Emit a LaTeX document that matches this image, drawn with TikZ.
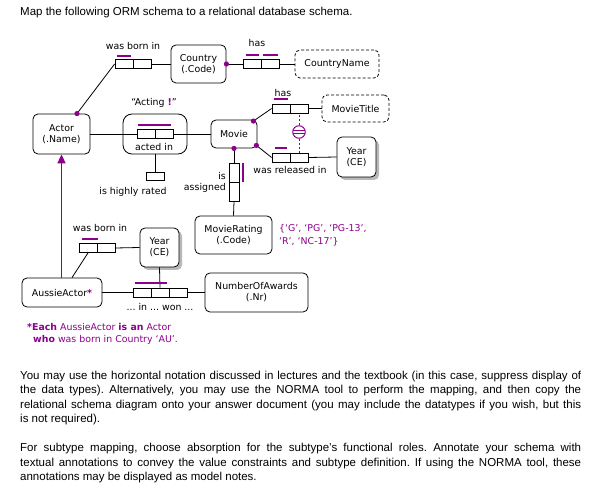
\documentclass[tikz,border=0pt]{standalone}
\usepackage{fontspec}
\setmainfont{Liberation Sans}
\newfontfamily\ormf{DejaVu Sans}
\usetikzlibrary{arrows.meta}
\definecolor{ormpurple}{RGB}{140,0,140}
\frenchspacing
\newcommand{\bodyf}{\fontsize{11.5}{13}\selectfont}
\newcommand{\ormsize}{\ormf\fontsize{9.4}{11}\selectfont}
\tikzset{
  ent/.style={draw, fill=white, rounded corners=5pt, line width=0.8pt, align=center, inner sep=0pt, font=\ormsize},
  valt/.style={ent, dash pattern=on 3pt off 2pt},
  shadowbox/.style={draw=none, fill=black!28, rounded corners=5pt, inner sep=0pt},
  role/.style={draw, fill=white, line width=0.8pt, minimum width=18pt, minimum height=9pt, inner sep=0pt},
  vrole/.style={role, minimum width=10pt, minimum height=19pt},
  uniq/.style={ormpurple, line width=1.2pt},
  conn/.style={line width=0.8pt},
  lbl/.style={font=\ormsize, inner sep=0pt},
  body/.style={font=\bodyf, inner sep=0pt, anchor=base west},
}
\begin{document}
\begin{tikzpicture}[x=1pt,y=-1pt]
\fill[white] (0,0) rectangle (598,492);
\useasboundingbox (0,0) rectangle (598,492);

% ---------- body text ----------
\node[body] (title) at (20,16) {Map the following ORM schema to a relational database schema.};
\node[body] (p1a) at (20,379) {\makebox[561pt][s]{You may use the horizontal notation discussed in lectures and the textbook (in this case, suppress display of}};
\node[body] (p1b) at (20,393.5) {\makebox[561pt][s]{the data types). Alternatively, you may use the NORMA tool to perform the mapping, and then copy the}};
\node[body] (p1c) at (20,408) {\makebox[561pt][s]{relational schema diagram onto your answer document (you may include the datatypes if you wish, but this}};
\node[body] (p1d) at (20,422.5) {is not required).};
\node[body] (p2a) at (20,451.5) {\makebox[561pt][s]{For subtype mapping, choose absorption for the subtype’s functional roles. Annotate your schema with}};
\node[body] (p2b) at (20,466) {\makebox[561pt][s]{textual annotations to convey the value constraints and subtype definition. If using the NORMA tool, these}};
\node[body] (p2c) at (20,480.5) {annotations may be displayed as model notes.};

% ---------- object types ----------
\node[ent, minimum width=57pt, minimum height=40pt] (actor) at (61.5,134) {Actor\\(.Name)};
\node[ent, minimum width=55pt, minimum height=38pt] (country) at (198.5,64) {Country\\(.Code)};
\node[valt, minimum width=84pt, minimum height=28pt] (cname) at (337,64) {CountryName};
\node[valt, minimum width=67pt, minimum height=27pt] (mtitle) at (355.5,108.5) {MovieTitle};
\node[ent, minimum width=46pt, minimum height=28pt] (movie) at (234,134) {Movie};
\node[shadowbox, minimum width=39pt, minimum height=40pt] (year1s) at (359.5,160) {};
\node[ent, minimum width=39pt, minimum height=40pt] (year1) at (356.5,157) {Year\\(CE)};
\node[ent, minimum width=77pt, minimum height=38pt] (rating) at (233.5,235) {MovieRating\\(.Code)};
\node[ent, minimum width=103pt, minimum height=39pt] (awards) at (256.5,292.5) {NumberOfAwards\\(.Nr)};
\node[shadowbox, minimum width=39pt, minimum height=39pt] (year2s) at (162.5,250.5) {};
\node[ent, minimum width=39pt, minimum height=39pt] (year2) at (159.5,247.5) {Year\\(CE)};
\node[ent, minimum width=80pt, minimum height=29pt] (aussie) at (62,292.5) {AussieActor{\color{ormpurple}\textbf{*}}};

% objectified fact type
\node[draw, line width=0.8pt, rounded corners=9pt, minimum width=64pt, minimum height=40pt, inner sep=0pt] (obj) at (155,134) {};

% ---------- mandatory dot positions ----------
\coordinate (dA) at ([xshift=15.5pt]actor.north);
\coordinate (dC) at (country.east);
\coordinate (dM1) at ([shift={(-4,1.5)}]movie.north east);
\coordinate (dM2) at ([shift={(-1,-3)}]movie.south east);
\coordinate (dM3) at (movie.south);

% ---------- role boxes ----------
\node[role] (wbA1) at (124,64) {};
\node[role] (wbA2) at (142,64) {};
\node[role] (hasC1) at (252,64) {};
\node[role] (hasC2) at (270,64) {};
\node[role] (hasT1) at (281,108.5) {};
\node[role] (hasT2) at (299,108.5) {};
\node[role] (relR1) at (281,157.5) {};
\node[role] (relR2) at (299,157.5) {};
\node[role] (act1) at (146,134) {};
\node[role] (act2) at (164,134) {};
\node[role, minimum height=8pt] (hr) at (155,176) {};
\node[vrole] (as1) at (234,172.5) {};
\node[vrole] (as2) at (234,191.5) {};
\node[role] (wbB1) at (88,248) {};
\node[role] (wbB2) at (106,248) {};
\node[role] (t1) at (142,292.5) {};
\node[role] (t2) at (160,292.5) {};
\node[role] (t3) at (178,292.5) {};

% ---------- connectors ----------
\draw[conn] (dA) -- (wbA1.west);
\draw[conn] (wbA2.east) -- (country.west);
\draw[conn] (dC) -- (hasC1.west);
\draw[conn] (hasC2.east) -- (cname.west);
\draw[conn] (actor.east) -- (act1.west);
\draw[conn] (act2.east) -- (movie.west);
\draw[conn] (obj.south) -- (hr.north);
\draw[conn] (dM1) -- (hasT1.west);
\draw[conn] (hasT2.east) -- (mtitle.west);
\draw[conn] (dM2) -- (relR1.west);
\draw[conn] (relR2.east) -- (year1.west);
\draw[conn] (dM3) -- (as1.north);
\draw[conn] (as2.south) -- (rating.north);
\draw[conn] ([xshift=10pt]aussie.north) -- (wbB1.south);
\draw[conn] (wbB2.east) -- (year2.west);
\draw[conn] (year2.south) -- (t2.north);
\draw[conn] (aussie.east) -- (t1.west);
\draw[conn] (t3.east) -- (awards.west);

% subtype arrow
\draw[ormpurple, line width=1.6pt, -{Triangle[length=9pt,width=8pt]}] (aussie.north -| actor.south) -- (actor.south);

% external uniqueness constraint
\node[circle, draw=ormpurple, line width=1pt, minimum size=12.5pt, inner sep=0pt] (euc) at (299,132) {};
\draw[ormpurple, line width=1pt] ([shift={(-6,-1.4)}]euc.center) -- ++(12,0);
\draw[ormpurple, line width=1pt] ([shift={(-6,1.4)}]euc.center) -- ++(12,0);
\draw[ormpurple, line width=0.8pt, dash pattern=on 2pt off 2pt] (euc.north) -- (hasT2.south);
\draw[ormpurple, line width=0.8pt, dash pattern=on 2pt off 2pt] (euc.south) -- (relR2.north);

% mandatory dots
\foreach \d in {dA,dC,dM1,dM2,dM3} \fill[ormpurple] (\d) circle (2.6pt);

% uniqueness constraints
\draw[uniq] (117,56) -- (131,56);
\draw[uniq] (246,55) -- (259,55);
\draw[uniq] (263,55) -- (278,55);
\draw[uniq] (274,99) -- (288,99);
\draw[uniq] (275,148) -- (287,148);
\draw[uniq] (138,125) -- (171,125);
\draw[uniq] (243,163) -- (243,182);
\draw[uniq] (82,239) -- (98,239);
\draw[uniq] (135,283) -- (167,283);

% ---------- labels ----------
\node[lbl] (lwb1) at (133,46) {was born in};
\node[lbl] (lhas1) at (257,43) {has};
\node[lbl] (lhas2) at (283,93) {has};
\node[lbl] (lacting) at (154,103) {“Acting {\color{ormpurple}\textbf{!}}”};
\node[lbl] (lacted) at (154,147) {acted in};
\node[lbl] (lhr) at (133,192) {is highly rated};
\node[lbl, anchor=east] (lis) at (226,176) {is};
\node[lbl, anchor=east] (lassig) at (226,188) {assigned};
\node[lbl] (lrel) at (290,170) {was released in};
\node[lbl, anchor=west, align=left, text=ormpurple, font=\ormf\fontsize{9.4}{13}\selectfont] (lvc) at (279,235.5) {\{‘G’, ‘PG’, ‘PG-13’,\\‘R’, ‘NC-17’\}};
\node[lbl] (lwb2) at (100,228) {was born in};
\node[lbl] (ltern) at (160,307) {... in ... won ...};
\node[lbl, anchor=base west, text=ormpurple] (fn1) at (27,330.5) {\textbf{*Each} AussieActor \textbf{is an} Actor};
\node[lbl, anchor=base west, text=ormpurple] (fn2) at (33,342) {\textbf{who} was born in Country ‘AU’.};
\end{tikzpicture}
\end{document}
